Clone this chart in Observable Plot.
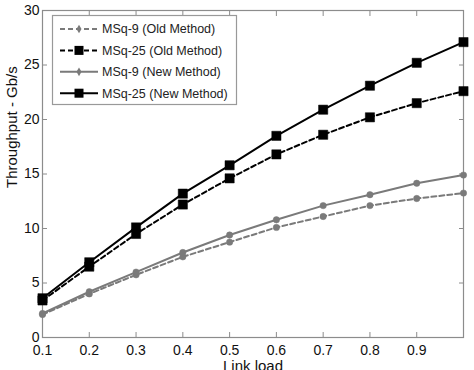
<!DOCTYPE html>
<html><head><meta charset="utf-8">
<script src="https://cdn.jsdelivr.net/npm/d3@7"></script>
<script src="https://cdn.jsdelivr.net/npm/@observablehq/plot@0.6"></script>
<style>body{margin:0;background:#fff} #chart{width:474px;height:370px;overflow:hidden}</style>
</head><body><div id="chart"></div>
<script>
const load = [0.1, 0.2, 0.3, 0.4, 0.5, 0.6, 0.7, 0.8, 0.9, 1.0];
const msq9Old  = [2.1, 4.0, 5.75, 7.4, 8.75, 10.1, 11.1, 12.1, 12.75, 13.25];
const msq25Old = [3.4, 6.5, 9.5, 12.2, 14.6, 16.8, 18.6, 20.2, 21.5, 22.6];
const msq9New  = [2.2, 4.2, 6.0, 7.8, 9.4, 10.8, 12.1, 13.1, 14.15, 14.9];
const msq25New = [3.6, 6.9, 10.1, 13.2, 15.8, 18.5, 20.9, 23.1, 25.2, 27.1];
const seriesNames = ["MSq-9 (Old Method)", "MSq-25 (Old Method)", "MSq-9 (New Method)", "MSq-25 (New Method)"];
const xTicks = [0.1, 0.2, 0.3, 0.4, 0.5, 0.6, 0.7, 0.8, 0.9];
const yTicks = [0, 5, 10, 15, 20, 25, 30];
const xLabel = "Link load";
const yLabel = "Throughput - Gb/s";

const styles = [
  {color: "#7a7a7a", dash: "5,3", symbol: "circle", r: 3.2},
  {color: "#000000", dash: "5,3", symbol: "square", r: 5.2},
  {color: "#7a7a7a", dash: null, symbol: "circle", r: 3.2},
  {color: "#000000", dash: null, symbol: "square", r: 5.2}
];
const values = [msq9Old, msq25Old, msq9New, msq25New];
const table = seriesNames.map((name, s) => load.map((x, i) => ({series: name, x, y: values[s][i]})));

const font = "'Liberation Sans', Arial, Helvetica, sans-serif";
const frameColor = "#8c8c8c";

const seriesMarks = table.flatMap((rows, s) => [
  Plot.line(rows, {x: "x", y: "y", stroke: styles[s].color, strokeWidth: 2, strokeDasharray: styles[s].dash}),
  Plot.dot(rows, {x: "x", y: "y", symbol: styles[s].symbol, r: styles[s].r, fill: styles[s].color, stroke: styles[s].color, strokeWidth: 0.5})
]);

const tk = 5;
const plot = Plot.plot({
  width: 474,
  height: 370,
  marginLeft: 42,
  marginRight: 11,
  marginTop: 10,
  marginBottom: 33,
  style: {fontFamily: font, background: "#fff", overflow: "visible"},
  x: {domain: [0.1, 1.0]},
  y: {domain: [0, 30]},
  marks: [
    Plot.axisX(xTicks, {anchor: "bottom", tickSize: 0, tickPadding: 8, fontSize: 14, fill: "#111", label: null}),
    Plot.axisY(yTicks, {anchor: "left", tickSize: 0, tickPadding: 3, fontSize: 14, fill: "#111", label: null}),
    Plot.axisX(xTicks, {anchor: "bottom", tickSize: tk, dy: -tk, tickFormat: () => "", stroke: frameColor, label: null}),
    Plot.axisX(xTicks, {anchor: "top", tickSize: tk, dy: tk, tickFormat: () => "", stroke: frameColor, label: null}),
    Plot.axisY(yTicks, {anchor: "left", tickSize: tk, dx: tk, tickFormat: () => "", stroke: frameColor, label: null}),
    Plot.axisY(yTicks, {anchor: "right", tickSize: tk, dx: -tk, tickFormat: () => "", stroke: frameColor, label: null}),
    Plot.frame({stroke: frameColor, strokeWidth: 1.2}),
    ...seriesMarks,
    Plot.text([yLabel], {frameAnchor: "left", rotate: -90, dx: -30, dy: 14, fontSize: 15, fill: "#111"}),
    Plot.text([xLabel], {frameAnchor: "bottom", dy: 23, lineAnchor: "top", fontSize: 15, fill: "#111"})
  ]
});

// Legend (inside the plot frame, top-left)
const svg = d3.select(plot);
const lg = svg.append("g").attr("font-family", font).attr("font-size", 12.5).attr("text-anchor", "start");
lg.append("rect").attr("x", 52.5).attr("y", 15.5).attr("width", 184).attr("height", 89)
  .attr("fill", "#fff").attr("stroke", "#999").attr("stroke-width", 1.2);
seriesNames.forEach((name, s) => {
  const cy = 29 + s * 21.4;
  const st = styles[s];
  lg.append("line").attr("x1", 60).attr("x2", 98).attr("y1", cy).attr("y2", cy)
    .attr("stroke", st.color).attr("stroke-width", 2).attr("stroke-dasharray", st.dash);
  if (st.symbol === "square") {
    lg.append("rect").attr("x", 79 - 4.5).attr("y", cy - 4.5).attr("width", 9).attr("height", 9).attr("fill", st.color);
  } else {
    lg.append("path").attr("d", d3.symbol(d3.symbolDiamond, 22)()).attr("transform", `translate(79,${cy})`).attr("fill", st.color);
  }
  lg.append("text").attr("x", 102).attr("y", cy).attr("dy", "0.35em").attr("text-anchor", "start").attr("fill", "#222").text(name);
});

document.getElementById("chart").appendChild(plot);
</script>
</body></html>
